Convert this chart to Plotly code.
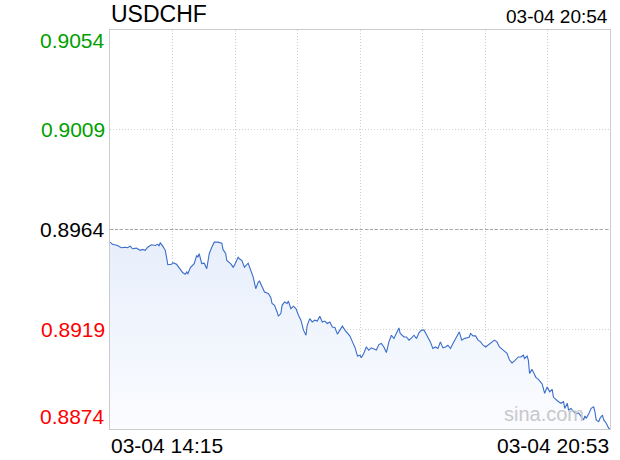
import plotly.graph_objects as go

# ---- data (minutes after 14:15, price) ----
minutes = [0, 2, 6, 9, 12, 14, 16, 18, 21, 24, 26, 28, 30, 33, 36, 38, 39, 40, 42, 44,
           45, 46, 49, 50, 53, 55, 57, 58, 60, 61, 62, 64, 67, 69, 70, 71, 73, 75, 77, 79,
           81, 83, 86, 89, 90, 92, 93, 96, 98, 99, 102, 103, 105, 107, 110, 112, 114, 116, 118, 119,
           121, 123, 126, 128, 129, 131, 133, 134, 136, 137, 139, 141, 142, 144, 146, 148, 150, 152, 154, 156,
           157, 159, 161, 163, 165, 167, 169, 171, 173, 175, 177, 179, 181, 183, 185, 187, 189, 191, 193, 195,
           197, 199, 200, 202, 204, 206, 208, 210, 212, 214, 216, 218, 220, 222, 224, 226, 228, 230, 231, 234,
           236, 238, 240, 242, 244, 246, 248, 250, 251, 253, 255, 257, 259, 261, 263, 265, 267, 269, 271, 273,
           275, 276, 278, 280, 282, 284, 286, 287, 289, 291, 293, 295, 297, 299, 301, 304, 306, 308, 310, 313,
           316, 318, 320, 322, 325, 327, 329, 330, 332, 333, 334, 336, 337, 339, 341, 343, 344, 346, 347, 348,
           350, 352, 353, 355, 357, 359, 361, 362, 364, 365, 367, 369, 371, 373, 375, 377, 378, 379, 381, 383,
           385, 386, 387, 389, 390, 392, 393, 395, 397, 398]
prices = [0.89583, 0.89573, 0.89568, 0.89558, 0.89560, 0.89558, 0.89565, 0.89553, 0.89556, 0.89546,
          0.89550, 0.89546, 0.89560, 0.89571, 0.89568, 0.89573, 0.89567, 0.89580, 0.89565, 0.89546,
          0.89515, 0.89481, 0.89483, 0.89490, 0.89483, 0.89468, 0.89456, 0.89445, 0.89438, 0.89448,
          0.89441, 0.89468, 0.89486, 0.89523, 0.89515, 0.89531, 0.89486, 0.89488, 0.89463, 0.89531,
          0.89560, 0.89583, 0.89583, 0.89578, 0.89549, 0.89533, 0.89500, 0.89486, 0.89470, 0.89478,
          0.89515, 0.89508, 0.89500, 0.89470, 0.89488, 0.89456, 0.89425, 0.89373, 0.89403, 0.89407,
          0.89380, 0.89358, 0.89351, 0.89333, 0.89306, 0.89298, 0.89268, 0.89249, 0.89261, 0.89298,
          0.89313, 0.89306, 0.89317, 0.89283, 0.89294, 0.89283, 0.89253, 0.89231, 0.89186, 0.89163,
          0.89208, 0.89238, 0.89223, 0.89231, 0.89227, 0.89249, 0.89223, 0.89227, 0.89216, 0.89223,
          0.89200, 0.89198, 0.89168, 0.89186, 0.89204, 0.89186, 0.89171, 0.89159, 0.89133, 0.89108,
          0.89069, 0.89073, 0.89061, 0.89081, 0.89110, 0.89096, 0.89106, 0.89100, 0.89096, 0.89121,
          0.89126, 0.89110, 0.89085, 0.89133, 0.89163, 0.89148, 0.89171, 0.89196, 0.89171, 0.89155,
          0.89155, 0.89141, 0.89151, 0.89163, 0.89148, 0.89175, 0.89186, 0.89186, 0.89175, 0.89155,
          0.89133, 0.89103, 0.89110, 0.89103, 0.89133, 0.89106, 0.89110, 0.89118, 0.89103, 0.89126,
          0.89145, 0.89160, 0.89178, 0.89141, 0.89148, 0.89151, 0.89155, 0.89171, 0.89160, 0.89160,
          0.89141, 0.89133, 0.89118, 0.89110, 0.89118, 0.89133, 0.89141, 0.89133, 0.89110, 0.89096,
          0.89081, 0.89051, 0.89038, 0.89047, 0.89065, 0.89065, 0.89073, 0.89058, 0.89069, 0.89051,
          0.88991, 0.89009, 0.88998, 0.88973, 0.88964, 0.88953, 0.88943, 0.88901, 0.88916, 0.88930,
          0.88908, 0.88919, 0.88883, 0.88871, 0.88863, 0.88856, 0.88863, 0.88833, 0.88856, 0.88826,
          0.88833, 0.88818, 0.88808, 0.88813, 0.88795, 0.88781, 0.88799, 0.88788, 0.88808, 0.88833,
          0.88840, 0.88818, 0.88781, 0.88773, 0.88788, 0.88803, 0.88781, 0.88766, 0.88743, 0.88740]

symbol = "USDCHF"
update_time = "03-04 20:54"
start_label = "03-04 14:15"
end_label = "03-04 20:53"
prev_close = 0.8964
y_ticks = [0.9054, 0.9009, 0.8964, 0.8919, 0.8874]
y_tick_text = ["0.9054", "0.9009", "0.8964", "0.8919", "0.8874"]
y_tick_colors = ["#00a000", "#00a000", "#000000", "#ff0000", "#ff0000"]
total_minutes = 398

FONT = "Liberation Sans, Arial, Helvetica, sans-serif"

fig = go.Figure()
fig.add_trace(go.Scatter(
    x=minutes, y=prices, mode="lines",
    line=dict(color="#3a6cca", width=1.1),
    fill="tozeroy",
    fillgradient=dict(type="vertical", start=min(y_ticks), stop=prev_close,
                      colorscale=[[0, "#fbfcff"], [1, "#e6eefb"]]),
    hoverinfo="skip", showlegend=False,
))

fig.add_shape(type="line", xref="paper", x0=0, x1=1, yref="y", y0=prev_close, y1=prev_close,
              line=dict(color="#a8a8a8", width=1, dash="3px,2px"), layer="above")

annotations = [
    dict(text=symbol, xref="paper", yref="paper", x=0, y=1, xanchor="left", yanchor="bottom",
         xshift=-1, yshift=1, showarrow=False, font=dict(family=FONT, size=23, color="#000")),
    dict(text=update_time, xref="paper", yref="paper", x=1, y=1, xanchor="right", yanchor="bottom",
         xshift=0, yshift=1, showarrow=False, font=dict(family=FONT, size=19, color="#000")),
    dict(text=start_label, xref="paper", yref="paper", x=0, y=0, xanchor="left", yanchor="top",
         xshift=-1, yshift=-3, showarrow=False, font=dict(family=FONT, size=21, color="#000")),
    dict(text=end_label, xref="paper", yref="paper", x=1, y=0, xanchor="right", yanchor="top",
         xshift=1, yshift=-3, showarrow=False, font=dict(family=FONT, size=21, color="#000")),
    dict(text="sina.com", xref="paper", yref="paper", x=1, y=0, xanchor="right", yanchor="bottom",
         xshift=-24, yshift=2, showarrow=False, font=dict(family=FONT, size=20, color="#c8c8c8")),
]
n = len(y_ticks)
for i, (v, t, c) in enumerate(zip(y_ticks, y_tick_text, y_tick_colors)):
    ys = 0
    if i == 0:
        ys = -10
    elif i == n - 1:
        ys = 13
    annotations.append(dict(text=t, xref="paper", yref="y", x=0, y=v, xanchor="right", yanchor="middle",
                            xshift=-3, yshift=ys, showarrow=False,
                            font=dict(family=FONT, size=21, color=c)))

fig.update_layout(
    width=620, height=460,
    margin=dict(l=110, r=10, t=30, b=31),
    paper_bgcolor="#ffffff", plot_bgcolor="#ffffff",
    annotations=annotations,
    xaxis=dict(range=[0, total_minutes], showticklabels=False, ticks="",
               tick0=0, dtick=total_minutes / 8, showgrid=True, gridcolor="#cfcfcf", griddash="1px,2px",
               gridwidth=1, zeroline=False, showline=True, linecolor="#cccccc", mirror=True),
    yaxis=dict(range=[min(y_ticks), max(y_ticks)], showticklabels=False, ticks="",
               tickvals=y_ticks, showgrid=True, gridcolor="#cfcfcf", griddash="1px,2px", gridwidth=1,
               zeroline=False, showline=True, linecolor="#cccccc", mirror=True),
)

fig.write_html("out.html", config={"displayModeBar": False},
               post_script="document.body.style.margin='0';document.body.style.overflow='hidden';")
